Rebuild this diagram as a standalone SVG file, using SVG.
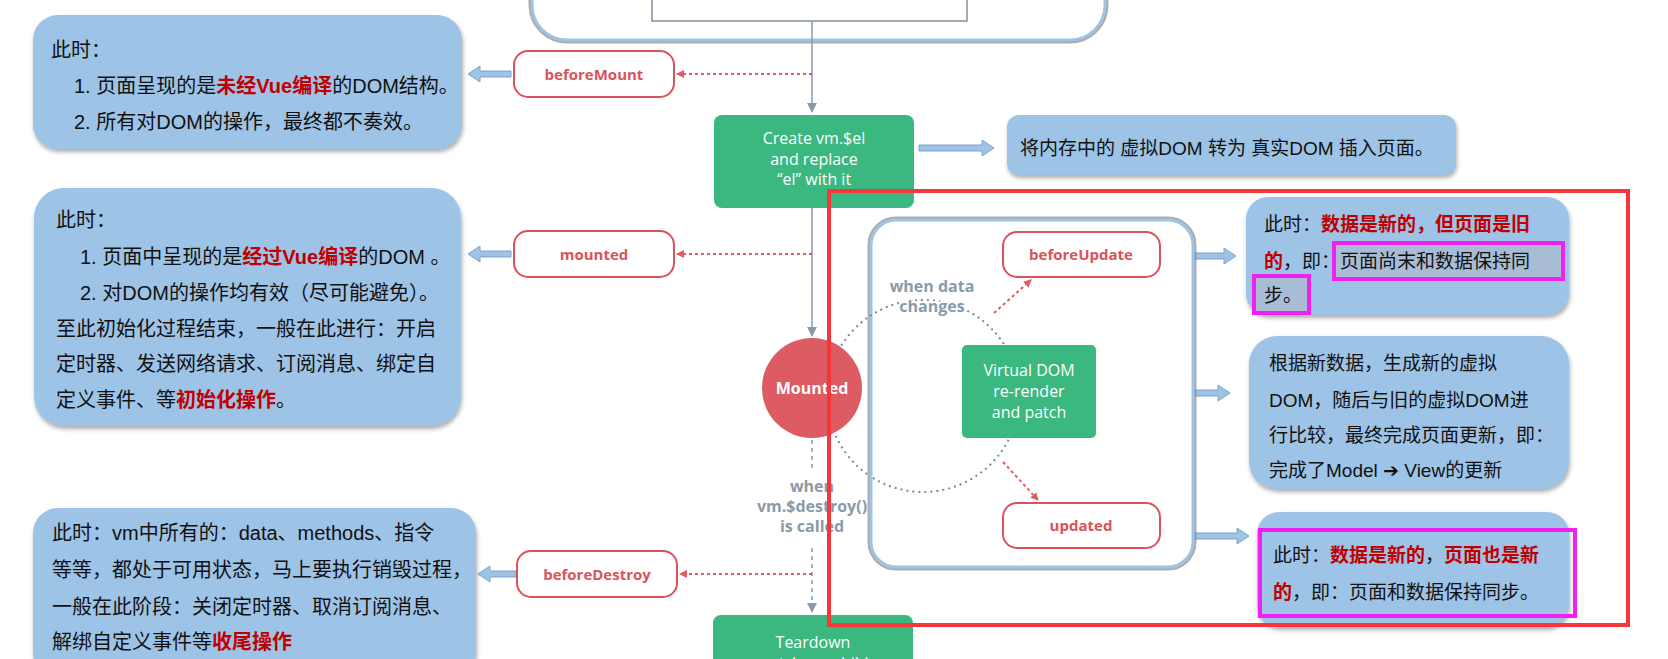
<svg xmlns="http://www.w3.org/2000/svg" width="1668" height="659" viewBox="0 0 1668 659">
<style>
.note{fill:#9dc3e6;filter:url(#sh)}
.t{font-family:"Liberation Sans","Noto Sans CJK SC",sans-serif;fill:#111}
.l{font-size:20px}.r{font-size:19px}
.red{fill:#c00000;font-weight:bold}
.pill{fill:#fff;stroke:#d9535b;stroke-width:2}
.pt{font-family:"Open Sans","Liberation Sans",sans-serif;font-size:15px;font-weight:bold;fill:#d9535b;text-anchor:middle}
.green{fill:#3bb87f}
.gt{font-family:"Open Sans","Liberation Sans",sans-serif;font-size:16px;fill:#fff;text-anchor:middle}
.gray{font-family:"Open Sans","Liberation Sans",sans-serif;font-size:16px;font-weight:bold;fill:#8a9aa8;text-anchor:middle}
.rd{stroke:#e05a60;stroke-width:2;stroke-dasharray:3 3;fill:none}
.bar{fill:#9dc3e6;stroke:#7fa2c9;stroke-width:1}
.mag{fill:none;stroke:#f020f0;stroke-width:4}
.frame{fill:#fff;stroke:#9dc3e6;stroke-width:3}
.frameback{fill:none;stroke:#8c8c8c;stroke-width:7;opacity:0.7}
</style>
<defs>
<filter id="sh" x="-10%" y="-10%" width="120%" height="130%"><feDropShadow dx="1" dy="3" stdDeviation="2" flood-color="#777" flood-opacity="0.6"/></filter>
<marker id="ra" markerWidth="8" markerHeight="8" refX="7" refY="4" orient="auto" markerUnits="userSpaceOnUse"><path d="M0,0 L8,4 L0,8 Z" fill="#e05a60"/></marker>
<marker id="ga" markerWidth="10" markerHeight="10" refX="9" refY="5" orient="auto" markerUnits="userSpaceOnUse"><path d="M0,0 L10,5 L0,10 Z" fill="#8a9aa8"/></marker>
</defs>
<g id="top"><rect x="532" y="-60" width="573" height="100" rx="35" class="frameback"/><rect x="532" y="-60" width="573" height="100" rx="35" class="frame"/><rect x="652" y="-10" width="315" height="31" fill="none" stroke="#8090a0" stroke-width="1.5"/></g>
<g id="connectors">
<line x1="812" y1="21" x2="812" y2="112" stroke="#8a9aa8" stroke-width="1.5" marker-end="url(#ga)"/>
<line x1="812" y1="208" x2="812" y2="336" stroke="#8a9aa8" stroke-width="1.5" marker-end="url(#ga)"/>
<line x1="812" y1="440" x2="812" y2="472" stroke="#8a9aa8" stroke-width="1.5" stroke-dasharray="4 4"/>
<line x1="812" y1="548" x2="812" y2="612" stroke="#8a9aa8" stroke-width="1.5" stroke-dasharray="4 4" marker-end="url(#ga)"/>
<line x1="812" y1="74" x2="677" y2="74" class="rd" marker-end="url(#ra)"/>
<line x1="812" y1="254" x2="677" y2="254" class="rd" marker-end="url(#ra)"/>
<line x1="812" y1="574" x2="680" y2="574" class="rd" marker-end="url(#ra)"/>
<circle cx="923" cy="396" r="96" fill="none" stroke="#7a8a98" stroke-width="2" stroke-dasharray="2 4"/>
<path d="M511,71 H480 V66 L468,74 L480,82 V77 H511 Z" class="bar"/>
<path d="M511,251 H480 V246 L468,254 L480,262 V257 H511 Z" class="bar"/>
<path d="M516,571 H490 V566 L478,574 L490,582 V577 H516 Z" class="bar"/>
<path d="M919,145 H982 V140 L994,148 L982,156 V151 H919 Z" class="bar"/>
<path d="M1164,253 H1224 V248 L1236,256 L1224,264 V259 H1164 Z" class="bar"/>
<path d="M1106,390 H1218 V385 L1230,393 L1218,401 V396 H1106 Z" class="bar"/>
<path d="M1172,533 H1237 V528 L1249,536 L1237,544 V539 H1172 Z" class="bar"/>
</g>
<g id="updbox"><rect x="871" y="220" width="322" height="347" rx="25" class="frameback"/><rect x="871" y="220" width="322" height="347" rx="25" class="frame"/></g>
<g id="circle-lines"><path d="M870,316 A96,96 0 1,1 870,476" fill="none" stroke="#7a8a98" stroke-width="2" stroke-dasharray="2 4"/>
<line x1="994" y1="313" x2="1031" y2="280" class="rd" marker-end="url(#ra)"/>
<line x1="1003" y1="462" x2="1038" y2="500" class="rd" marker-end="url(#ra)"/>
</g>
<g id="whendata"><text class="gray" x="932" y="292" stroke="#fff" stroke-width="4" paint-order="stroke">when data</text><text class="gray" x="932" y="312" stroke="#fff" stroke-width="4" paint-order="stroke">changes</text></g>
<g id="destroylabel"><text class="gray" x="812" y="492">when</text><text class="gray" x="812" y="512">vm.$destroy()</text><text class="gray" x="812" y="532">is called</text></g>
<g id="create"><rect x="714" y="115" width="200" height="93" rx="8" class="green"/><text class="gt" x="814" y="144">Create vm.$el</text><text class="gt" x="814" y="165">and replace</text><text class="gt" x="814" y="185">“el” with it</text></g>
<g id="mounted-circle"><circle cx="812" cy="388" r="50" fill="#dd5b63"/><text class="gt" x="812" y="394" font-weight="bold" font-size="17">Mounted</text></g>
<g id="teardown"><rect x="713" y="615" width="200" height="70" rx="8" class="green"/><text class="gt" x="813" y="648">Teardown</text><text class="gt" x="813" y="669">watchers, child</text></g>
<g id="vdom"><rect x="962" y="345" width="134" height="93" rx="5" class="green"/><text class="gt" x="1029" y="376">Virtual DOM</text><text class="gt" x="1029" y="397">re-render</text><text class="gt" x="1029" y="418">and patch</text></g>
<g id="beforeMount"><rect x="514" y="51" width="160" height="46" rx="14" class="pill"/><text class="pt" x="594" y="80">beforeMount</text></g>
<g id="mounted"><rect x="514" y="231" width="160" height="46" rx="14" class="pill"/><text class="pt" x="594" y="260">mounted</text></g>
<g id="beforeDestroy"><rect x="517" y="551" width="160" height="46" rx="14" class="pill"/><text class="pt" x="597" y="580">beforeDestroy</text></g>
<g id="beforeUpdate"><rect x="1003" y="232" width="157" height="45" rx="14" class="pill"/><text class="pt" x="1081" y="260">beforeUpdate</text></g>
<g id="updated"><rect x="1003" y="503" width="157" height="45" rx="14" class="pill"/><text class="pt" x="1081" y="531">updated</text></g>
<g id="note1"><rect x="33" y="15" width="429" height="134" rx="25" class="note"/>
<text class="t l" x="51" y="57">此时：</text>
<text class="t l" x="74" y="93">1. 页面呈现的是<tspan class="red">未经Vue编译</tspan>的DOM结构。</text>
<text class="t l" x="74" y="129">2. 所有对DOM的操作，最终都不奏效。</text></g>
<g id="note2"><rect x="34" y="188" width="427" height="238" rx="30" class="note"/>
<text class="t l" x="56" y="227">此时：</text>
<text class="t l" x="80" y="264">1. 页面中呈现的是<tspan class="red">经过Vue编译</tspan>的DOM 。</text>
<text class="t l" x="80" y="300">2. 对DOM的操作均有效（尽可能避免）。</text>
<text class="t l" x="56" y="336">至此初始化过程结束，一般在此进行：开启</text>
<text class="t l" x="56" y="371">定时器、发送网络请求、订阅消息、绑定自</text>
<text class="t l" x="56" y="407">定义事件、等<tspan class="red">初始化操作</tspan>。</text></g>
<g id="note3"><rect x="33" y="508" width="443" height="170" rx="25" class="note"/>
<text class="t l" x="52" y="540">此时：vm中所有的：data、methods、指令</text>
<text class="t l" x="52" y="577">等等，都处于可用状态，马上要执行销毁过程，</text>
<text class="t l" x="52" y="614">一般在此阶段：关闭定时器、取消订阅消息、</text>
<text class="t l" x="52" y="649">解绑自定义事件等<tspan class="red">收尾操作</tspan></text></g>
<g id="note4"><rect x="1007" y="115" width="449" height="60" rx="12" class="note"/>
<text class="t r" x="1020" y="155">将内存中的 虚拟DOM 转为 真实DOM 插入页面。</text></g>
<g id="noteA"><rect x="1246" y="197" width="323" height="118" rx="22" class="note"/>
<rect x="1334" y="243" width="229" height="36" fill="#a9bcd6"/><rect x="1334" y="243" width="229" height="36" class="mag"/>
<rect x="1254" y="276" width="55" height="37" fill="#a9bcd6"/><rect x="1254" y="276" width="55" height="37" class="mag"/>
<text class="t r" x="1264" y="231">此时：<tspan class="red">数据是新的，但页面是旧</tspan></text>
<text class="t r" x="1264" y="268"><tspan class="red">的</tspan>，即：页面尚末和数据保持同</text>
<text class="t r" x="1264" y="302">步。</text></g>
<g id="noteB"><rect x="1249" y="336" width="320" height="153" rx="28" class="note"/>
<text class="t r" x="1269" y="370">根据新数据，生成新的虚拟</text>
<text class="t r" x="1269" y="407">DOM，随后与旧的虚拟DOM进</text>
<text class="t r" x="1269" y="442">行比较，最终完成页面更新，即：</text>
<text class="t r" x="1269" y="477">完成了Model ➔ View的更新</text></g>
<g id="noteC"><rect x="1257" y="512" width="312" height="115" rx="22" class="note"/>
<rect x="1260" y="530" width="315" height="86" fill="none" class="mag"/>
<text class="t r" x="1273" y="562">此时：<tspan class="red">数据是新的</tspan>，<tspan class="red">页面也是新</tspan></text>
<text class="t r" x="1273" y="599"><tspan class="red">的</tspan>，即：页面和数据保持同步。</text></g>
<g id="redframe"><rect x="829" y="191" width="799" height="434" fill="none" stroke="#f5363a" stroke-width="4"/></g>
</svg>
